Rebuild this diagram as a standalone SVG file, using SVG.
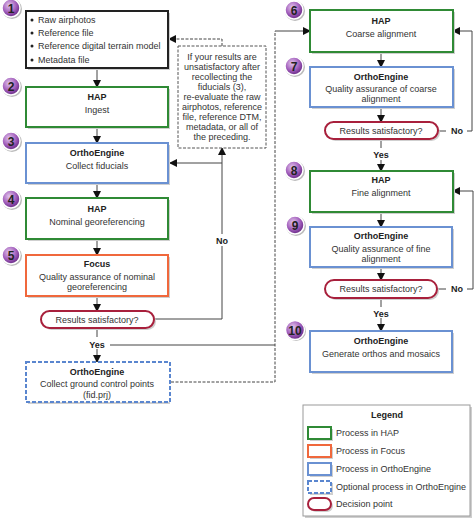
<svg xmlns="http://www.w3.org/2000/svg" width="474" height="518" viewBox="0 0 474 518">
<style>
text{font-family:"Liberation Sans",Arial,sans-serif;font-size:9px;fill:#333}
.c{text-anchor:middle}
.b{font-weight:bold;fill:#222}
.sh{fill:#cfcfcf;stroke:none}
.box{fill:#fff;stroke-width:2}
.hap{stroke:#2f8a35}
.foc{stroke:#f0683c}
.oe{stroke:#6a91d2}
.opt{stroke:#5a86cf;stroke-dasharray:4,2}
.dec{fill:#fff;stroke:#a8203c;stroke-width:2}
.inp{fill:#fff;stroke:#222;stroke-width:2}
.ln{fill:none;stroke:#444;stroke-width:1}
.dl{fill:none;stroke:#444;stroke-width:1;stroke-dasharray:3,1.5}
.num circle.o{fill:url(#pg);stroke:#fff;stroke-width:1.5}
.num circle.s{fill:#bbb}
.num text{font-size:12px;font-weight:bold;fill:#222;text-anchor:middle}
</style>
<defs>
<radialGradient id="pg" cx="0.4" cy="0.35" r="0.7">
<stop offset="0" stop-color="#e3c6ec"/>
<stop offset="0.55" stop-color="#a360bd"/>
<stop offset="1" stop-color="#5e1f7c"/>
</radialGradient>
<marker id="ar" markerWidth="8" markerHeight="8" refX="7" refY="4" orient="auto" markerUnits="userSpaceOnUse">
<path d="M0,0 L8,4 L0,8 z" fill="#111"/>
</marker>
</defs>
<rect width="474" height="518" fill="#fff"/>

<g id="connectors">
<path class="ln" d="M97,68 V87" marker-end="url(#ar)"/>
<path class="ln" d="M97,127 V143" marker-end="url(#ar)"/>
<path class="ln" d="M97,183 V198" marker-end="url(#ar)"/>
<path class="ln" d="M97,239 V255" marker-end="url(#ar)"/>
<path class="ln" d="M97,296 V311" marker-end="url(#ar)"/>
<path class="ln" d="M154,319 H222 V163 H170" marker-end="url(#ar)"/>
<path class="ln" d="M222,163 V148" marker-end="url(#ar)"/>
<path class="dl" d="M222,46 V39 H169" marker-end="url(#ar)"/>
<path class="ln" d="M97,328 V337"/>
<path class="ln" d="M97,349 V362" marker-end="url(#ar)"/>
<path class="ln" d="M110,345 H275"/>
<path class="dl" d="M171,382 H275 V31"/>
<path class="ln" d="M275,31 H310" marker-end="url(#ar)"/>
<path class="ln" d="M381,52 V67" marker-end="url(#ar)"/>
<path class="ln" d="M381,107 V122" marker-end="url(#ar)"/>
<path class="ln" d="M438,131 H446"/>
<path class="ln" d="M467,131 H472 V31 H453" marker-end="url(#ar)"/>
<path class="ln" d="M381,139 V148"/>
<path class="ln" d="M381,160 V171" marker-end="url(#ar)"/>
<path class="ln" d="M381,212 V227" marker-end="url(#ar)"/>
<path class="ln" d="M381,267 V280" marker-end="url(#ar)"/>
<path class="ln" d="M437,289 H446"/>
<path class="ln" d="M467,289 H473 V191 H453" marker-end="url(#ar)"/>
<path class="ln" d="M381,298 V307"/>
<path class="ln" d="M381,318 V331" marker-end="url(#ar)"/>
<rect x="214" y="234" width="16" height="12" fill="#fff"/>
<text class="b c" x="222" y="244">No</text>
<text class="b c" x="97" y="348">Yes</text>
<text class="b c" x="457" y="134">No</text>
<text class="b c" x="381" y="158">Yes</text>
<text class="b c" x="457" y="292">No</text>
<text class="b c" x="381" y="317">Yes</text>
</g>

<g id="node1">
<rect class="sh" x="28" y="13" width="142" height="57"/>
<rect class="inp" x="26" y="11" width="142" height="57"/>
<circle cx="32" cy="20" r="1.5" fill="#222"/><text x="38" y="23">Raw airphotos</text>
<circle cx="32" cy="33" r="1.5" fill="#222"/><text x="38" y="36">Reference file</text>
<circle cx="32" cy="46" r="1.5" fill="#222"/><text x="38" y="49">Reference digital terrain model</text>
<circle cx="32" cy="60" r="1.5" fill="#222"/><text x="38" y="63">Metadata file</text>
</g>

<g id="note">
<rect x="178" y="46" width="88" height="102" fill="#fff" stroke="#555" stroke-width="1" stroke-dasharray="3,1.5"/>
<text class="c" x="222" y="60">If your results are</text>
<text class="c" x="222" y="70">unsatisfactory after</text>
<text class="c" x="222" y="80">recollecting the</text>
<text class="c" x="222" y="90">fiducials (3),</text>
<text class="c" x="222" y="100">re-evaluate the raw</text>
<text class="c" x="222" y="110">airphotos, reference</text>
<text class="c" x="222" y="120">file, reference DTM,</text>
<text class="c" x="222" y="130">metadata, or all of</text>
<text class="c" x="222" y="140">the preceding.</text>
</g>

<g id="node2">
<rect class="sh" x="28" y="89" width="142" height="40"/>
<rect class="box hap" x="26" y="87" width="142" height="40"/>
<text class="b c" x="97" y="100">HAP</text>
<text class="c" x="97" y="113">Ingest</text>
</g>

<g id="node3">
<rect class="sh" x="28" y="145" width="142" height="40"/>
<rect class="box oe" x="26" y="143" width="142" height="40"/>
<text class="b c" x="97" y="156">OrthoEngine</text>
<text class="c" x="97" y="169">Collect fiducials</text>
</g>

<g id="node4">
<rect class="sh" x="28" y="200" width="142" height="41"/>
<rect class="box hap" x="26" y="198" width="142" height="41"/>
<text class="b c" x="97" y="212">HAP</text>
<text class="c" x="97" y="225">Nominal georeferencing</text>
</g>

<g id="node5">
<rect class="sh" x="28" y="257" width="142" height="41"/>
<rect class="box foc" x="26" y="255" width="142" height="41"/>
<text class="b c" x="97" y="267">Focus</text>
<text class="c" x="97" y="280">Quality assurance of nominal</text>
<text class="c" x="97" y="290">georeferencing</text>
</g>

<g id="decision1">
<rect class="sh" x="43" y="313" width="113" height="17" rx="8.5"/>
<rect class="dec" x="41" y="311" width="113" height="17" rx="8.5"/>
<text class="c" x="97" y="322.5">Results satisfactory?</text>
</g>

<g id="optional">
<rect class="sh" x="28" y="364" width="142" height="40"/>
<rect class="box opt" x="26" y="362" width="144" height="40"/>
<text class="b c" x="97" y="375">OrthoEngine</text>
<text class="c" x="97" y="387">Collect ground control points</text>
<text class="c" x="97" y="398">(fid.prj)</text>
</g>

<g id="node6">
<rect class="sh" x="312" y="12" width="143" height="42"/>
<rect class="box hap" x="310" y="10" width="143" height="42"/>
<text class="b c" x="381" y="24">HAP</text>
<text class="c" x="381" y="37">Coarse alignment</text>
</g>

<g id="node7">
<rect class="sh" x="312" y="69" width="143" height="40"/>
<rect class="box oe" x="310" y="67" width="143" height="40"/>
<text class="b c" x="381" y="80">OrthoEngine</text>
<text class="c" x="381" y="92">Quality assurance of coarse</text>
<text class="c" x="381" y="102">alignment</text>
</g>

<g id="decision2">
<rect class="sh" x="327" y="124" width="113" height="17" rx="8.5"/>
<rect class="dec" x="325" y="122" width="113" height="17" rx="8.5"/>
<text class="c" x="381" y="133.5">Results satisfactory?</text>
</g>

<g id="node8">
<rect class="sh" x="312" y="173" width="143" height="41"/>
<rect class="box hap" x="310" y="171" width="143" height="41"/>
<text class="b c" x="381" y="183">HAP</text>
<text class="c" x="381" y="196">Fine alignment</text>
</g>

<g id="node9">
<rect class="sh" x="312" y="229" width="142" height="40"/>
<rect class="box oe" x="310" y="227" width="142" height="40"/>
<text class="b c" x="381" y="239">OrthoEngine</text>
<text class="c" x="381" y="252">Quality assurance of fine</text>
<text class="c" x="381" y="262">alignment</text>
</g>

<g id="decision3">
<rect class="sh" x="327" y="282" width="112" height="18" rx="9"/>
<rect class="dec" x="325" y="280" width="112" height="18" rx="9"/>
<text class="c" x="381" y="292">Results satisfactory?</text>
</g>

<g id="node10">
<rect class="sh" x="312" y="333" width="142" height="41"/>
<rect class="box oe" x="310" y="331" width="142" height="41"/>
<text class="b c" x="381" y="344">OrthoEngine</text>
<text class="c" x="381" y="357">Generate orthos and mosaics</text>
</g>

<g id="badges" class="num">
<circle class="s" cx="12" cy="9" r="10"/><circle class="o" cx="11" cy="8" r="9"/><text x="11" y="12.5">1</text>
<circle class="s" cx="12" cy="87" r="10"/><circle class="o" cx="11" cy="86" r="9"/><text x="11" y="90.5">2</text>
<circle class="s" cx="12" cy="142" r="10"/><circle class="o" cx="11" cy="141" r="9"/><text x="11" y="145.5">3</text>
<circle class="s" cx="12" cy="200" r="10"/><circle class="o" cx="11" cy="199" r="9"/><text x="11" y="203.5">4</text>
<circle class="s" cx="12" cy="256" r="10"/><circle class="o" cx="11" cy="255" r="9"/><text x="11" y="259.5">5</text>
<circle class="s" cx="295" cy="11" r="10"/><circle class="o" cx="294" cy="10" r="9"/><text x="294" y="14.5">6</text>
<circle class="s" cx="295" cy="67" r="10"/><circle class="o" cx="294" cy="66" r="9"/><text x="294" y="70.5">7</text>
<circle class="s" cx="295" cy="171" r="10"/><circle class="o" cx="294" cy="170" r="9"/><text x="294" y="174.5">8</text>
<circle class="s" cx="296" cy="226" r="10"/><circle class="o" cx="295" cy="225" r="9"/><text x="295" y="229.5">9</text>
<circle class="s" cx="296" cy="331" r="10"/><circle class="o" cx="295" cy="330" r="9.5"/><text x="295" y="334.5">10</text>
</g>

<g id="legend">
<rect class="sh" x="305" y="407" width="167" height="111"/>
<rect x="303" y="405" width="167" height="111" fill="#fff" stroke="#9a9a9a" stroke-width="1"/>
<text class="b c" x="387" y="418">Legend</text>
<rect class="sh" x="310" y="429" width="23" height="12"/>
<rect class="box hap" x="308" y="427" width="23" height="12"/>
<text x="336" y="436">Process in HAP</text>
<rect class="sh" x="310" y="447" width="23" height="12"/>
<rect class="box foc" x="308" y="445" width="23" height="12"/>
<text x="336" y="454">Process in Focus</text>
<rect class="sh" x="310" y="465" width="23" height="12"/>
<rect class="box oe" x="308" y="463" width="23" height="12"/>
<text x="336" y="472">Process in OrthoEngine</text>
<rect class="sh" x="310" y="483" width="23" height="12"/>
<rect class="box opt" x="308" y="481" width="23" height="12"/>
<text x="336" y="490">Optional process in OrthoEngine</text>
<rect class="sh" x="310" y="500" width="23" height="12" rx="6"/>
<rect class="dec" x="308" y="498" width="23" height="12" rx="6"/>
<text x="336" y="507">Decision point</text>
</g>
</svg>
